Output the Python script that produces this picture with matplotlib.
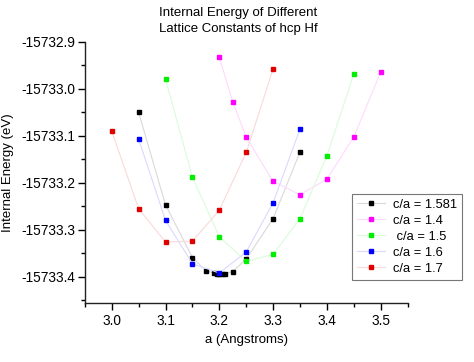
import matplotlib
matplotlib.use("Agg")
import matplotlib.pyplot as plt
from matplotlib.ticker import MultipleLocator, FormatStrFormatter
from matplotlib.colors import to_rgb

plt.rcParams['font.family'] = ['Liberation Sans', 'DejaVu Sans']

a_1581 = [3.05, 3.10, 3.15, 3.175, 3.19, 3.195, 3.20, 3.205, 3.21, 3.225, 3.25, 3.30, 3.35]
e_1581 = [-15733.050, -15733.247, -15733.359, -15733.387, -15733.392, -15733.394, -15733.394,
          -15733.394, -15733.393, -15733.389, -15733.362, -15733.276, -15733.134]

a_14 = [3.20, 3.225, 3.25, 3.30, 3.35, 3.40, 3.45, 3.50]
e_14 = [-15732.933, -15733.028, -15733.103, -15733.197, -15733.225, -15733.192, -15733.102, -15732.964]

a_15 = [3.10, 3.15, 3.20, 3.25, 3.30, 3.35, 3.40, 3.45]
e_15 = [-15732.979, -15733.188, -15733.315, -15733.367, -15733.352, -15733.276, -15733.142, -15732.968]

a_16 = [3.05, 3.10, 3.15, 3.20, 3.25, 3.30, 3.35]
e_16 = [-15733.107, -15733.280, -15733.372, -15733.392, -15733.347, -15733.242, -15733.085]

a_17 = [3.00, 3.05, 3.10, 3.15, 3.20, 3.25, 3.30]
e_17 = [-15733.090, -15733.255, -15733.326, -15733.324, -15733.258, -15733.135, -15732.957]

series = [
    (a_1581, e_1581, "c/a = 1.581", "#000000"),
    (a_14, e_14, "c/a = 1.4", "#ff00ff"),
    (a_15, e_15, " c/a = 1.5", "#00ee00"),
    (a_16, e_16, "c/a = 1.6", "#0000ff"),
    (a_17, e_17, "c/a = 1.7", "#e00000"),
]

def lighten(c, f=0.85):
    r, g, b = to_rgb(c)
    return (r + (1 - r) * f, g + (1 - g) * f, b + (1 - b) * f)

fig = plt.figure(figsize=(4.74, 3.62), dpi=100)
ax = fig.add_axes([0.179, 0.164, 0.681, 0.72])

for x, y, lab, c in series:
    ax.plot(x, y, '-', color=lighten(c, 0.85), lw=0.8, marker='s', ms=3.5,
            markerfacecolor=c, markeredgecolor=c, label=lab)

ax.set_xlim(2.95, 3.55)
ax.set_ylim(-15733.455, -15732.9)
ax.xaxis.set_major_locator(MultipleLocator(0.1))
ax.xaxis.set_minor_locator(MultipleLocator(0.05))
ax.yaxis.set_major_locator(MultipleLocator(0.1))
ax.yaxis.set_minor_locator(MultipleLocator(0.05))
ax.yaxis.set_major_formatter(FormatStrFormatter('%.1f'))
ax.xaxis.set_major_formatter(FormatStrFormatter('%.1f'))
ax.tick_params(axis='both', which='major', direction='out', length=5, width=1, labelsize=9.8)
ax.tick_params(axis='y', which='major', pad=2)
ax.tick_params(axis='both', which='minor', direction='out', length=3, width=1)
for s in ['top', 'right']:
    ax.spines[s].set_visible(False)
for s in ['left', 'bottom']:
    ax.spines[s].set_linewidth(1)
    ax.spines[s].set_color('#222222')

ax.set_xlabel("a (Angstroms)", fontsize=9.5, labelpad=4)
ax.set_ylabel("Internal Energy (eV)", fontsize=9.5, labelpad=5)
fig.text(0.503, 0.98, "Internal Energy of Different\nLattice Constants of hcp Hf",
         ha='center', va='top', fontsize=9.5, linespacing=1.4)

leg = ax.legend(loc='lower right', bbox_to_anchor=(0.975, 0.227),
                bbox_transform=fig.transFigure, fontsize=9.3,
                frameon=True, fancybox=False, edgecolor='#555555', handlelength=2.2,
                borderpad=0.4, labelspacing=0.3, handletextpad=0.6, borderaxespad=0)
leg.get_frame().set_linewidth(0.8)

fig.savefig("out.png", dpi=100)
